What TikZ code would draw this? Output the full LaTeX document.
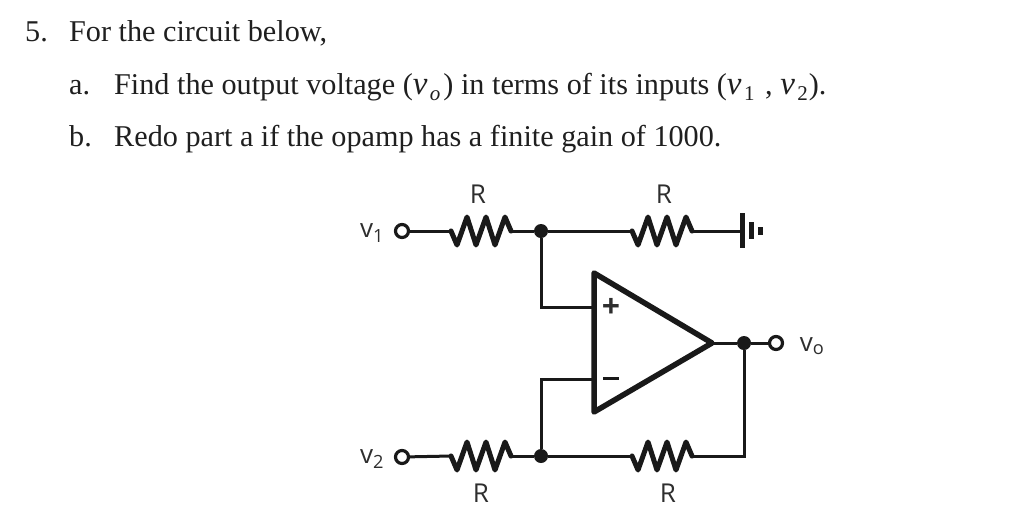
\documentclass[tikz,border=0pt]{standalone}
\usepackage{fontspec}
\setmainfont{Liberation Serif}
\newfontfamily\labelfont{Open Sans}
\usepackage{tikz}
\usetikzlibrary{positioning}

\newcommand{\mathv}[1]{{\fontsize{33}{34}\selectfont\textit{v}}\kern2.5pt{\fontsize{21}{22}\selectfont\raisebox{-6pt}{#1}}\kern1pt}

\begin{document}
\begin{tikzpicture}[
        x=1pt,
        y=-1pt,
        wire/.style={draw=black!90, line width=3pt, line join=miter},
        question/.style={anchor=base west, inner sep=0pt, text=black!88, font=\fontsize{30.2}{32}\selectfont},
        clabel/.style={inner sep=0pt, text=black!82, font=\labelfont\fontsize{26}{28}\selectfont},
        junction/.style={circle, fill=black!90, inner sep=0pt, minimum size=14pt},
        terminal/.style={circle, draw=black!90, fill=white, line width=3.2pt, inner sep=0pt, minimum size=13pt},
        opamp/.style={draw=black!90, line width=5.5pt, line join=round},
        plate/.style={draw=black!90, line width=5pt},
        pics/resistor/.style={code={
            \draw[draw=black!90, line width=5pt, line join=round, line cap=round]
                (0,0) -- (6,14) -- (16,-14) -- (25,14) -- (35,-14) -- (44,14) -- (54,-14) -- (60,0);
            \coordinate (-in) at (0,0);
            \coordinate (-out) at (60,0);
        }}
    ]
        \useasboundingbox (0,0) rectangle (1024,512);

        % Question text
        \node (num) [question] at (25,41) {5.};
        \node (qmain) [question] at (69,41) {For the circuit below,};
        \node (qa) [question] at (69,94) {a.};
        \node (qatext) [question] at (114,94) {Find the output voltage (\mathv{\textit{o}}\kern2pt) in terms of its inputs (\mathv{1}\kern2pt{} , \mathv{2}).};
        \node (qb) [question] at (69,146) {b.};
        \node (qbtext) [question] at (114,146) {Redo part a if the opamp has a finite gain of 1000.};

        % Nodes
        \node (vone) [terminal] at (402,231) {};
        \node (vtwo) [terminal] at (402,457) {};
        \node (vout) [terminal] at (776,343) {};
        \node (jtop) [junction] at (541,231) {};
        \node (jbot) [junction] at (541,456) {};
        \node (jout) [junction] at (744,343) {};
        \pic (rone) at (451,231) {resistor};
        \pic (rtwo) at (632,231) {resistor};
        \pic (rthree) at (451,456) {resistor};
        \pic (rfour) at (632,456) {resistor};

        % Opamp
        \coordinate (atop) at (594,273);
        \coordinate (abot) at (594,412);
        \coordinate (apex) at (712,343);
        \coordinate (aplus) at (594,307);
        \coordinate (aminus) at (594,379);
        \draw[opamp] (atop) -- (apex) -- (abot) -- cycle;
        \node (plus) [clabel, font=\labelfont\bfseries\fontsize{32}{34}\selectfont] at (611,308) {+};
        \draw[wire] (603,378) -- (619,378);

        % Ground
        \coordinate (gone) at (742,231);
        \draw[plate] (742,213) -- (742,248);
        \draw[plate] (751,222) -- (751,239);
        \draw[plate] (760,227) -- (760,235);

        % Labels
        \node (lvone) [clabel] at (372,233) {v\textsubscript{1}};
        \node (lvtwo) [clabel] at (372,459) {v\textsubscript{2}};
        \node (lvout) [clabel] at (812,346) {v\textsubscript{o}};
        \node (lrone) [clabel] at (478,194) {R};
        \node (lrtwo) [clabel] at (664,194) {R};
        \node (lrthree) [clabel] at (481,493) {R};
        \node (lrfour) [clabel] at (668,493) {R};

        % Connections
        \draw[wire] (vone) -- (rone-in);
        \draw[wire] (rone-out) -- (jtop);
        \draw[wire] (jtop) -- (rtwo-in);
        \draw[wire] (rtwo-out) -- (gone);
        \draw[wire] (vtwo) -- (rthree-in);
        \draw[wire] (rthree-out) -- (jbot);
        \draw[wire] (jbot) -- (rfour-in);
        \draw[wire] (rfour-out) -| (jout);
        \draw[wire] (jtop) |- (aplus);
        \draw[wire] (jbot) |- (aminus);
        \draw[wire] (apex) -- (jout);
        \draw[wire] (jout) -- (vout);
    \end{tikzpicture}
\end{document}
